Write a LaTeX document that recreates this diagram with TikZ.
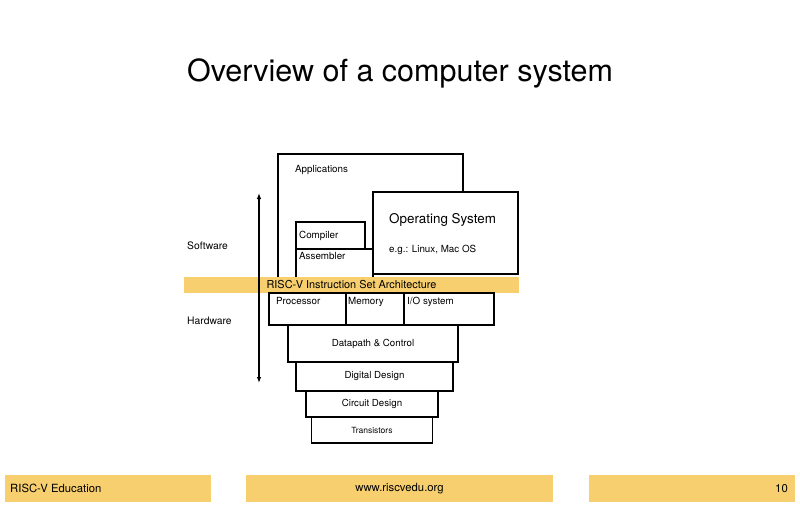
\documentclass[tikz,border=0pt]{standalone}
\usepackage{fontspec}
\setmainfont{TeX Gyre Heros}
\usetikzlibrary{positioning,arrows.meta}
\definecolor{riscvgold}{RGB}{247,207,110}

\begin{document}
\begin{tikzpicture}[x=1pt, y=-1pt, node distance=0pt, box/.style={
% The shape:
rectangle,
% The size:
inner sep=0pt, outer sep=0pt,
% The border:
draw=black, line width=1.3pt, fill=white
}, tag/.style={inner sep=0pt, font=\fontsize{9.8}{10}\selectfont},
band/.style={fill=riscvgold, inner sep=0pt, outer sep=0pt, anchor=north west}]

\useasboundingbox (0,0) rectangle (800,507);

\node (title) at (400,73) {\fontsize{30.5}{32}\selectfont Overview of a computer system};

% software side
\node (APP) [box, draw=none, anchor=north west, minimum width=185, minimum height=125] at (278,154) {};
\node (OS) [box, anchor=north west, minimum width=145, minimum height=82] at (373,192) {};
\draw [line width=1.3pt] (APP.south west) |- (APP.north east) -- (OS.north -| APP.east);
\node (COMP) [box, anchor=north west, minimum width=69, minimum height=27] at (296,222) {};
\node (ASM) [box, anchor=north west, minimum width=77, minimum height=30] at (296,249) {};

\node [tag, below right=11.5pt and 17pt of APP.north west] {Applications};
\node [tag, below right=21pt and 16pt of OS.north west, font=\fontsize{13.4}{14}\selectfont] {Operating System};
\node [tag, below right=53pt and 16pt of OS.north west] {e.g.: Linux, Mac OS};
\node [tag, below right=8.5pt and 3pt of COMP.north west] {Compiler};
\node [tag, below right=3.5pt and 3pt of ASM.north west] {Assembler};

% the interface
\node (ISA) [band, minimum width=335, minimum height=16, font=\fontsize{10.9}{11}\selectfont] at (184,277) {RISC-V Instruction Set Architecture};

% hardware side
\node (PROC) [box, anchor=north west, minimum width=77, minimum height=32] at (269,293) {};
\node (MEM) [box, right=of PROC, minimum width=58, minimum height=32] {};
\node (IO) [box, right=of MEM, minimum width=90, minimum height=32] {};
\node [tag, below right=4pt and 7pt of PROC.north west] {Processor};
\node [tag, below right=4pt and 2pt of MEM.north west] {Memory};
\node [tag, below right=4pt and 3pt of IO.north west] {I/O system};

\node (DP) [box, anchor=north west, minimum width=170, minimum height=37, font=\fontsize{9.7}{10}\selectfont] at (288,325) {Datapath \& Control};
\node (DD) [box, below=of DP, xshift=1.5pt, minimum width=157, minimum height=29, font=\fontsize{9.7}{10}\selectfont] {Digital Design};
\node (CD) [box, below=of DD, xshift=-2.5pt, minimum width=132, minimum height=26, font=\fontsize{9.7}{10}\selectfont] {Circuit Design};
\node (TR) [box, below=of CD, minimum width=121, minimum height=26, font=\fontsize{8.5}{9}\selectfont] {Transistors};

% software / hardware axis
\coordinate (up) at (259,193);
\coordinate (down) at (259,383);
\draw [line width=1.1pt, {Latex[length=6pt,width=4.5pt]}-{Latex[length=6pt,width=4.5pt]}] (up) -- (down);
\node (SW) [tag, anchor=west, font=\fontsize{10.3}{11}\selectfont] at (187,246) {Software};
\node (HW) [tag, anchor=west, font=\fontsize{10.3}{11}\selectfont] at (187,321) {Hardware};

% footer
\node (F1) [band, minimum width=206, minimum height=27] at (5,475) {};
\node (F2) [band, minimum width=307, minimum height=27] at (246,475) {};
\node (F3) [band, minimum width=206, minimum height=27] at (589,475) {};
\node [tag, right=5pt of F1.west, font=\fontsize{11.3}{12}\selectfont] {RISC-V Education};
\node [tag, font=\fontsize{11.3}{12}\selectfont] at (F2.center) {www.riscvedu.org};
\node [tag, left=7pt of F3.east, font=\fontsize{11.3}{12}\selectfont] {10};
\end{tikzpicture}
\end{document}
